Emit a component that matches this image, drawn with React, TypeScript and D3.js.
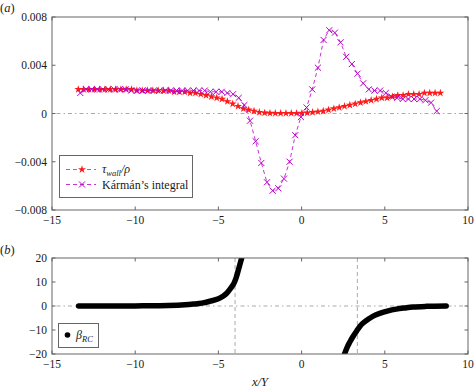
import * as d3 from "d3";

// (a) tau_wall / rho  (red stars)
const tauX = [-13.42, -13.10, -12.78, -12.46, -12.14, -11.82, -11.50, -11.18, -10.86, -10.54, -10.22, -9.90, -9.58, -9.26, -8.94, -8.62, -8.30, -7.98, -7.66, -7.34, -7.02, -6.70, -6.38, -6.06, -5.74, -5.42, -5.10, -4.78, -4.46, -4.14, -3.82, -3.50, -3.18, -2.86, -2.54, -2.22, -1.90, -1.58, -1.26, -0.94, -0.62, -0.30, 0.02, 0.34, 0.66, 0.98, 1.30, 1.62, 1.94, 2.26, 2.58, 2.90, 3.22, 3.54, 3.86, 4.18, 4.50, 4.82, 5.14, 5.46, 5.78, 6.10, 6.42, 6.74, 7.06, 7.38, 7.70, 8.02, 8.34];
const tauY = [0.0020, 0.0020, 0.0020, 0.0020, 0.0020, 0.0020, 0.0020, 0.0020, 0.0020, 0.0020, 0.0020, 0.0019, 0.0019, 0.0019, 0.0019, 0.0019, 0.0019, 0.0019, 0.0018, 0.0018, 0.0018, 0.0017, 0.0017, 0.0016, 0.0015, 0.0014, 0.0013, 0.0012, 0.0010, 0.0008, 0.0006, 0.0004, 0.0003, 0.0002, 0.0001, 0.00005, 0.00003, 0.00002, 0.00002, 0.00002, 0.00002, 0.00002, 0.00003, 0.00006, 0.0001, 0.00015, 0.0002, 0.0003, 0.0004, 0.0005, 0.0006, 0.0007, 0.0008, 0.0009, 0.0010, 0.0011, 0.0012, 0.0013, 0.0013, 0.0014, 0.0015, 0.0015, 0.0016, 0.0016, 0.0016, 0.0017, 0.0017, 0.0017, 0.0017];

// (a) Karman's integral (magenta crosses)
const karX = [-13.30, -12.96, -12.62, -12.28, -11.94, -11.60, -11.26, -10.92, -10.58, -10.24, -9.90, -9.56, -9.22, -8.88, -8.54, -8.20, -7.86, -7.52, -7.18, -6.84, -6.50, -6.16, -5.82, -5.48, -5.14, -4.80, -4.46, -4.12, -3.78, -3.44, -3.10, -2.76, -2.42, -2.08, -1.74, -1.40, -1.06, -0.72, -0.38, -0.04, 0.30, 0.64, 0.98, 1.32, 1.66, 2.00, 2.34, 2.68, 3.02, 3.36, 3.70, 4.04, 4.38, 4.72, 5.06, 5.40, 5.74, 6.08, 6.42, 6.76, 7.10, 7.44, 7.78, 8.12];
const karY = [0.0017, 0.0020, 0.0020, 0.0020, 0.0020, 0.0020, 0.0020, 0.0020, 0.0020, 0.0019, 0.0019, 0.0019, 0.0019, 0.0019, 0.0019, 0.0019, 0.0019, 0.0019, 0.0019, 0.0019, 0.0019, 0.0019, 0.0019, 0.0018, 0.0018, 0.0018, 0.0017, 0.0016, 0.0013, 0.0007, -0.0006, -0.0023, -0.0041, -0.0057, -0.0064, -0.0062, -0.0054, -0.0040, -0.0018, -0.0003, 0.0005, 0.0020, 0.0038, 0.0061, 0.0069, 0.0067, 0.0059, 0.0047, 0.0041, 0.0033, 0.0025, 0.0020, 0.0019, 0.0019, 0.0017, 0.0014, 0.0013, 0.0012, 0.0012, 0.0012, 0.0012, 0.0011, 0.0009, 0.0002];

// (b) beta_RC, two branches
const betaLeftX = [-13.4, -12, -11, -10, -9, -8, -7, -6.5, -6, -5.5, -5, -4.7, -4.5, -4.3, -4.1, -4.0, -3.9, -3.8, -3.7, -3.6];
const betaLeftY = [0, 0, 0.02, 0.05, 0.1, 0.2, 0.5, 0.8, 1.2, 2.0, 3.0, 4.2, 5.3, 7, 9, 10.5, 12.5, 15, 17.5, 20];
const betaRightX = [2.58, 2.75, 2.9, 3.08, 3.3, 3.5, 3.68, 4.0, 4.3, 4.69, 5.2, 5.69, 6.2, 6.69, 7.5, 8.69];
const betaRightY = [-20, -17, -15, -12.8, -10.5, -8.5, -7.2, -5.5, -4.2, -3.05, -2.0, -1.3, -0.8, -0.4, -0.15, 0];
const betaGuides = [-4.0, 3.35];

const xTicks = [-15, -10, -5, 0, 5, 10];
const aTicks = [0.008, 0.004, 0, -0.004, -0.008];
const aTickLabels = ["0.008", "0.004", "0", "\u22120.004", "\u22120.008"];
const bTicks = [20, 10, 0, -10, -20];
const bTickLabels = ["20", "10", "0", "\u221210", "\u221220"];

const W = 474, H = 389;
const L = 52, R = 468;
const aTop = 17, aBot = 210;
const bTop = 258, bBot = 354;
const FONT = "Liberation Serif, DejaVu Serif, serif";
const RED = "#ff1a1a";
const MAG = "#b800c8";
const FRAME = "#666";

const x = d3.scaleLinear().domain([-15, 10]).range([L, R]);
const ya = d3.scaleLinear().domain([-0.008, 0.008]).range([aBot, aTop]);
const yb = d3.scaleLinear().domain([-20, 20]).range([bBot, bTop]);

const starPath = d3.symbol().type(d3.symbolStar).size(20)()!;
const crossPath = d3.symbol().type(d3.symbolTimes).size(26)()!;

const txt = { fontFamily: FONT, fill: "#1a1a1a" };

function Frame({ top, bot, yTicks, yScale, yLabels }: any) {
  const t = 3.5;
  return (
    <g>
      <rect x={L} y={top} width={R - L} height={bot - top} fill="none" stroke={FRAME} strokeWidth={1} />
      {xTicks.map(v => (
        <g key={"x" + v}>
          <line x1={x(v)} x2={x(v)} y1={bot} y2={bot - t} stroke={FRAME} />
          <line x1={x(v)} x2={x(v)} y1={top} y2={top + t} stroke={FRAME} />
          <text x={x(v)} y={bot + 14} textAnchor="middle" fontSize={11.5} style={txt}>
            {v < 0 ? "\u2212" + Math.abs(v) : String(v)}
          </text>
        </g>
      ))}
      {yTicks.map((v: number, i: number) => (
        <g key={"y" + v}>
          <line x1={L} x2={L + t} y1={yScale(v)} y2={yScale(v)} stroke={FRAME} />
          <line x1={R} x2={R - t} y1={yScale(v)} y2={yScale(v)} stroke={FRAME} />
          <text x={L - 5} y={yScale(v) + 4} textAnchor="end" fontSize={11.5} style={txt}>{yLabels[i]}</text>
        </g>
      ))}
    </g>
  );
}

export default function App() {
  const tauPts = tauX.map((v, i) => [v, tauY[i]] as [number, number]);
  const karPts = karX.map((v, i) => [v, karY[i]] as [number, number]);
  const lineA = d3.line<[number, number]>().x(d => x(d[0])).y(d => ya(d[1]));
  const lineB = d3.line<[number, number]>().x(d => x(d[0])).y(d => yb(d[1])).curve(d3.curveCatmullRom);
  const left = betaLeftX.map((v, i) => [v, betaLeftY[i]] as [number, number]);
  const right = betaRightX.map((v, i) => [v, betaRightY[i]] as [number, number]);

  return (
    <svg width={W} height={H} style={{ position: "absolute", left: 0, top: 0, background: "#fff", fontFamily: FONT }}>
      <defs>
        <clipPath id="clipB"><rect x={L} y={bTop} width={R - L} height={bBot - bTop} /></clipPath>
      </defs>

      {/* panel (a) */}
      <text x={0} y={12} fontSize={12.5} style={txt}>(<tspan fontStyle="italic">a</tspan>)</text>
      <line x1={L} x2={R} y1={ya(0)} y2={ya(0)} stroke="#aaa" strokeDasharray="1.5,3,4,3" />
      <path d={lineA(tauPts)!} fill="none" stroke={RED} strokeWidth={0.8} strokeDasharray="4,3" />
      {tauPts.map((d, i) => (
        <path key={"s" + i} d={starPath} transform={`translate(${x(d[0])},${ya(d[1])})`} fill={RED} />
      ))}
      <path d={lineA(karPts)!} fill="none" stroke={MAG} strokeWidth={0.8} strokeDasharray="4,3" />
      {karPts.map((d, i) => (
        <path key={"c" + i} d={crossPath} transform={`translate(${x(d[0])},${ya(d[1])})`} fill="none" stroke={MAG} strokeWidth={1} />
      ))}
      <Frame top={aTop} bot={aBot} yTicks={aTicks} yScale={ya} yLabels={aTickLabels} />

      {/* legend (a) */}
      <rect x={59.5} y={155.5} width={133} height={42} fill="#fff" stroke={FRAME} />
      <line x1={66} x2={96} y1={169.5} y2={169.5} stroke={RED} strokeWidth={0.8} strokeDasharray="4,3" />
      <path d={starPath} transform="translate(82,169.5)" fill={RED} />
      <text x={102} y={173} fontSize={12} fontStyle="italic" style={txt}>
        τ<tspan fontSize={8.5} dy={3}>wall</tspan><tspan dy={-3}>/ρ</tspan>
      </text>
      <line x1={66} x2={96} y1={184.5} y2={184.5} stroke={MAG} strokeWidth={0.8} strokeDasharray="4,3" />
      <path d={crossPath} transform="translate(82,184.5)" fill="none" stroke={MAG} strokeWidth={1} />
      <text x={102} y={188.5} fontSize={12} style={txt}>Kármán’s integral</text>

      {/* panel (b) */}
      <text x={0} y={254} fontSize={12.5} style={txt}>(<tspan fontStyle="italic">b</tspan>)</text>
      <line x1={L} x2={R} y1={yb(0)} y2={yb(0)} stroke="#aaa" strokeDasharray="1.5,3,4,3" />
      {betaGuides.map(v => (
        <line key={"g" + v} x1={x(v)} x2={x(v)} y1={bTop} y2={bBot} stroke="#aaa" strokeDasharray="4,3" />
      ))}
      <g clipPath="url(#clipB)">
        <path d={lineB(left)!} fill="none" stroke="#000" strokeWidth={5.5} strokeLinecap="round" />
        <path d={lineB(right)!} fill="none" stroke="#000" strokeWidth={5.5} strokeLinecap="round" />
      </g>
      <Frame top={bTop} bot={bBot} yTicks={bTicks} yScale={yb} yLabels={bTickLabels} />

      {/* legend (b) */}
      <rect x={58.5} y={323.5} width={40} height={24} fill="#fff" stroke={FRAME} />
      <circle cx={67.5} cy={335} r={2.8} fill="#000" />
      <text x={76} y={339} fontSize={12} fontStyle="italic" style={txt}>
        β<tspan fontSize={8.5} dy={3}>RC</tspan>
      </text>

      <text x={260} y={386} fontSize={12.5} fontStyle="italic" textAnchor="middle" style={txt}>x/Y</text>
    </svg>
  );
}
